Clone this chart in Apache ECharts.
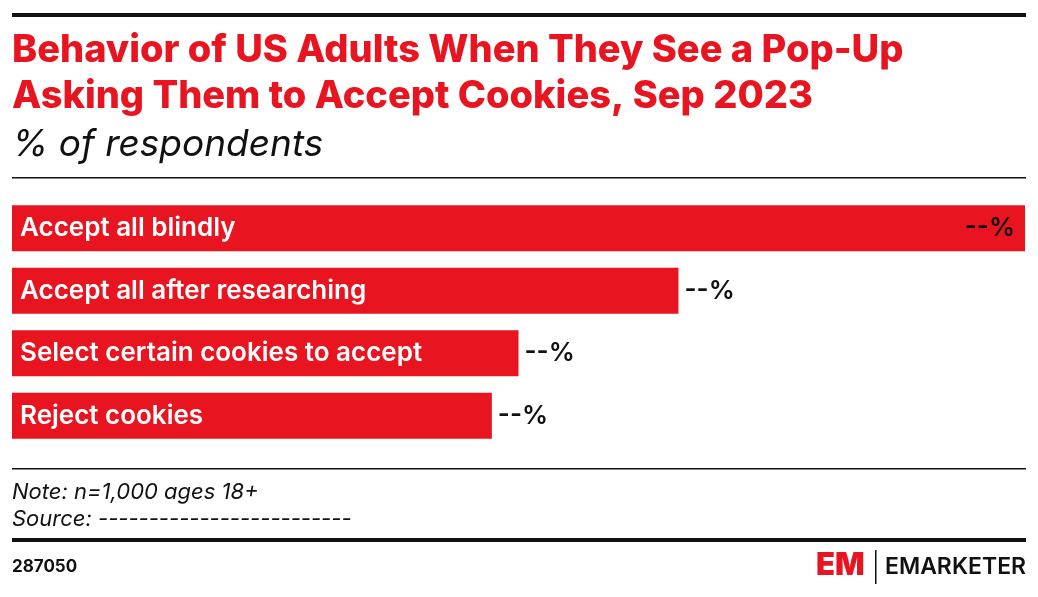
<!DOCTYPE html>
<html>
<head>
<meta charset="utf-8">
<script src="https://cdn.jsdelivr.net/npm/echarts@6/dist/echarts.min.js"></script>
<style>
  html, body { margin: 0; padding: 0; background: #fff; }
  #chart { width: 1038px; height: 597px; }
</style>
</head>
<body>
<div id="chart"></div>
<script>
const categories = ["Accept all blindly", "Accept all after researching", "Select certain cookies to accept", "Reject cookies"];
const values = [38, 25, 19, 18];
const valueLabels = ["--%", "--%", "--%", "--%"];

const RED = "#e8141f";
const FONT = "Inter, 'Noto Sans', sans-serif";

const chart = echarts.init(document.getElementById("chart"));

const option = {
  animation: false,
  grid: { left: 12, right: 13, top: 197, height: 250 },
  xAxis: { type: "value", min: 0, max: 38, show: false },
  yAxis: {
    type: "category",
    data: categories,
    inverse: true,
    show: false
  },
  series: [
    {
      type: "bar",
      data: values.map((v, i) => ({
        value: v,
        label: i === 0 ? { position: "insideRight", offset: [-4, 0] } : {}
      })),
      barWidth: 46,
      itemStyle: { color: RED },
      label: {
        show: true,
        position: "right",
        distance: 6,
        color: "#111",
        fontFamily: FONT,
        fontWeight: 600,
        fontSize: 26,
        formatter: (p) => valueLabels[p.dataIndex]
      }
    },
    {
      // category names inside the bars
      type: "bar",
      data: values,
      barWidth: 46,
      barGap: "-100%",
      itemStyle: { color: "transparent" },
      silent: true,
      label: {
        show: true,
        position: "insideLeft",
        distance: 8,
        color: "#fff",
        fontFamily: FONT,
        fontWeight: 600,
        fontSize: 26,
        formatter: (p) => categories[p.dataIndex]
      }
    }
  ],
  graphic: [
    { type: "rect", shape: { x: 12, y: 13, width: 1014, height: 4 }, style: { fill: "#111" } },
    { type: "text", left: 12, top: 28, style: { text: "Behavior of US Adults When They See a Pop-Up\nAsking Them to Accept Cookies, Sep 2023", fill: RED, font: "800 38px " + FONT, lineHeight: 46 } },
    { type: "text", left: 12, top: 126, style: { text: "% of respondents", fill: "#111", font: "italic 37px " + FONT } },
    { type: "rect", shape: { x: 12, y: 177, width: 1014, height: 1.5 }, style: { fill: "#111" } },
    { type: "rect", shape: { x: 12, y: 468, width: 1014, height: 1.5 }, style: { fill: "#111" } },
    { type: "text", left: 12, top: 479, style: { text: "Note: n=1,000 ages 18+\nSource: -------------------------", fill: "#111", font: "italic 22px " + FONT, lineHeight: 27 } },
    { type: "rect", shape: { x: 12, y: 538, width: 1014, height: 4 }, style: { fill: "#111" } },
    { type: "text", left: 12, top: 558, style: { text: "287050", fill: "#111", font: "bold 17px " + FONT } },
    { type: "text", left: 816, top: 550, style: { text: "EM", fill: RED, font: "900 31px " + FONT } },
    { type: "rect", shape: { x: 875, y: 550, width: 1.5, height: 34 }, style: { fill: "#111" } },
    { type: "text", left: 885, top: 556, style: { text: "EMARKETER", fill: "#111", font: "600 23px " + FONT } }
  ]
};

chart.setOption(option);
</script>
</body>
</html>
